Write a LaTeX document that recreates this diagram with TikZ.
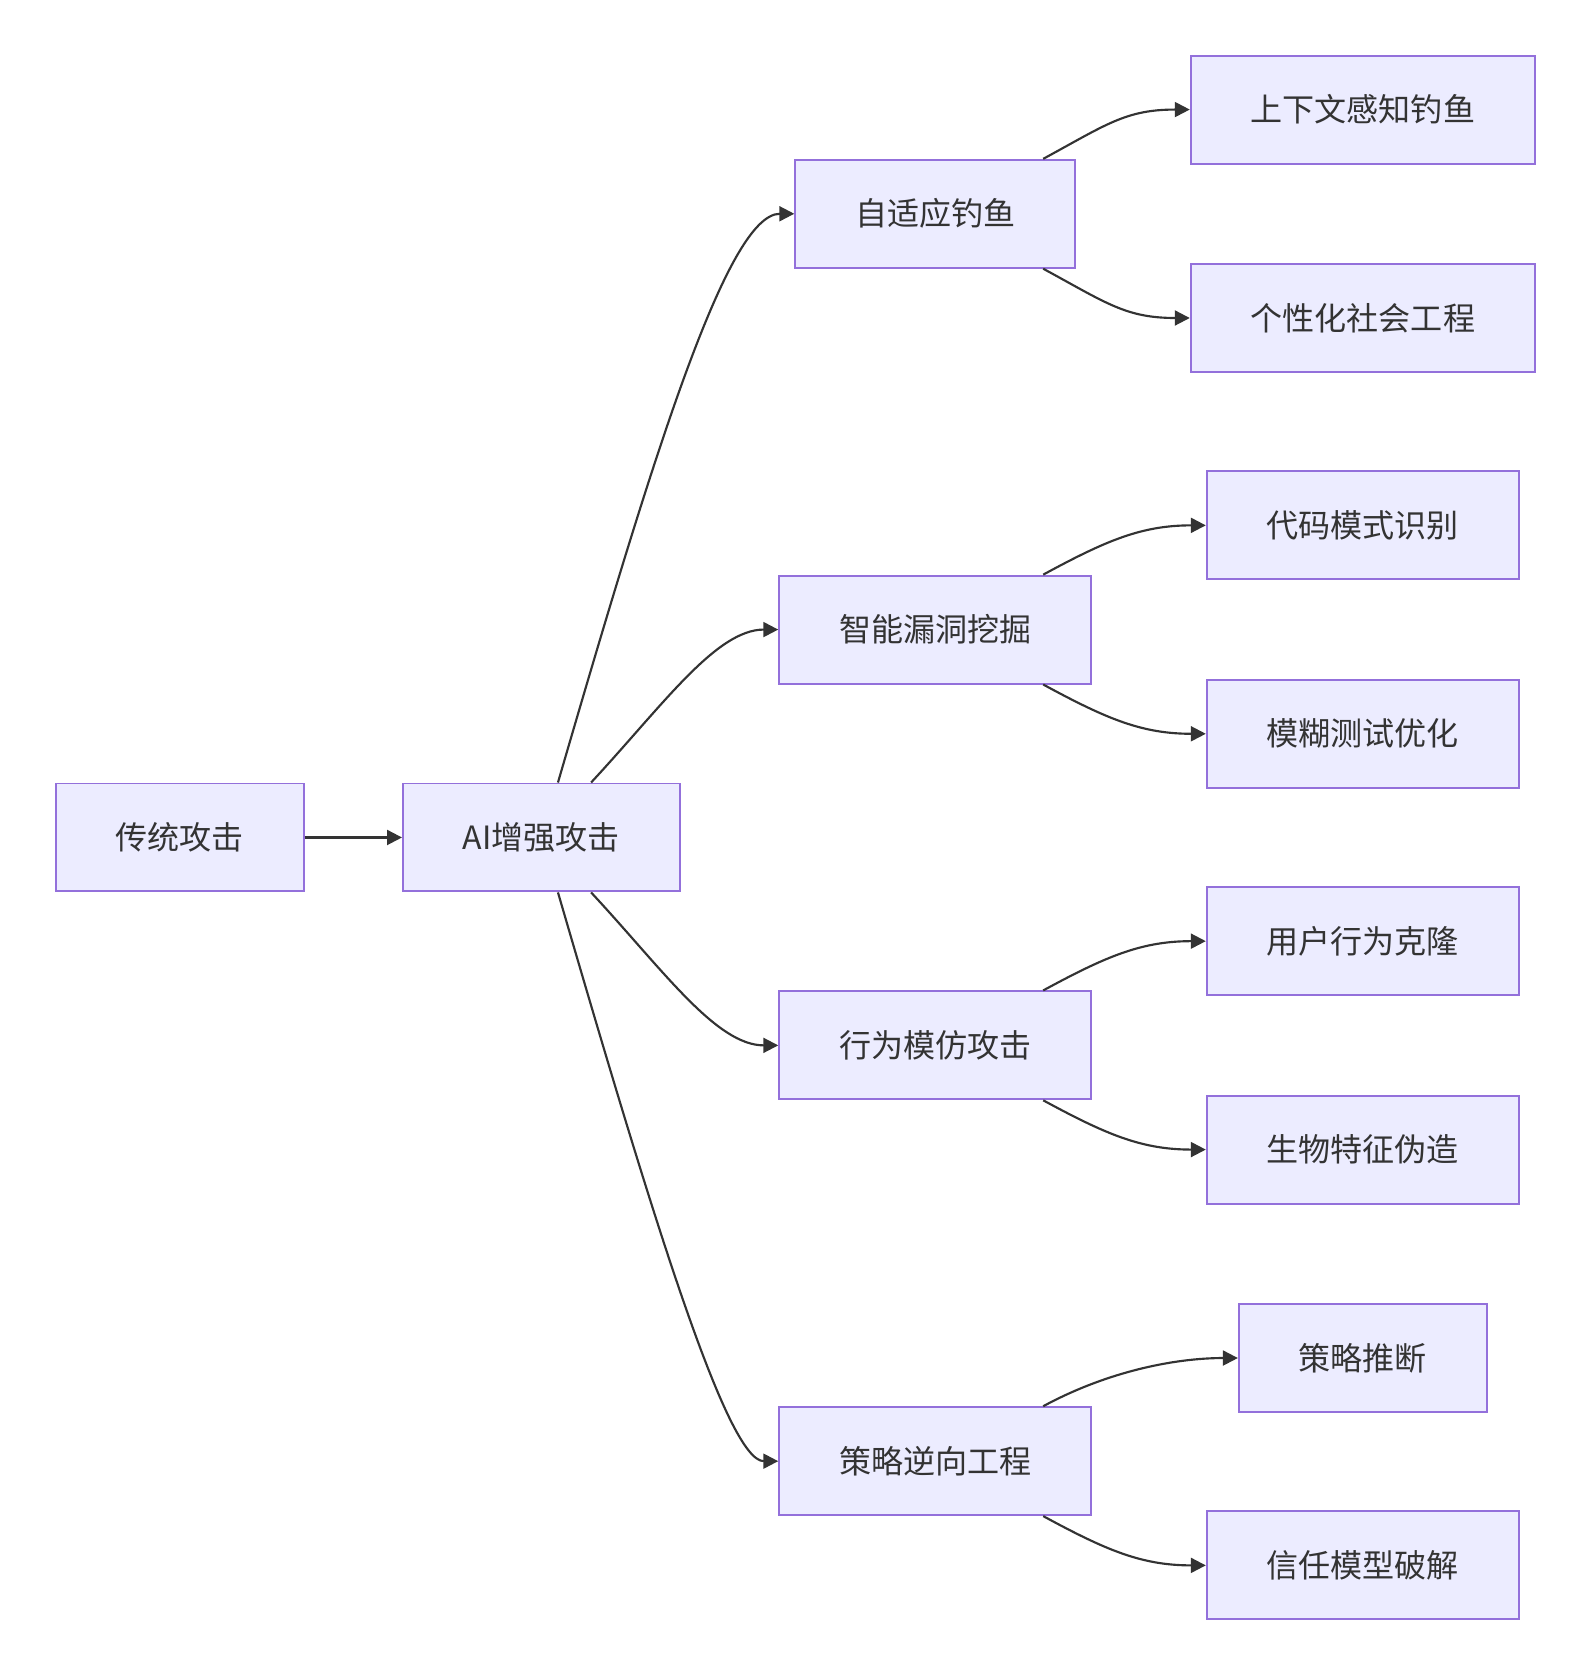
\documentclass[tikz,border=0pt]{standalone}
\usepackage{fontspec}
\newfontfamily\cjk{Noto Sans CJK SC}
\usetikzlibrary{arrows.meta,calc}
\definecolor{boxfill}{HTML}{ECECFF}
\definecolor{boxline}{HTML}{9370DB}
\definecolor{ink}{HTML}{333333}
\tikzset{
  box/.style={draw=boxline, fill=boxfill, line width=0.9pt, inner sep=0pt,
    minimum height=50.5pt, text=ink, font=\cjk\fontsize{15pt}{18pt}\selectfont},
  link/.style={draw=ink, line width=1pt, -{Triangle[length=7pt,width=7pt]}}
}
\begin{document}
\begin{tikzpicture}[x=0.5pt,y=-0.5pt]
\useasboundingbox (0,0) rectangle (1488,1568);
\node[box, minimum width=116pt] (a) at (168,783.5) {传统攻击};
\node[box, minimum width=129.5pt] (b) at (506.5,783.5) {AI增强攻击};
\node[box, minimum width=131pt] (c1) at (875,200) {自适应钓鱼};
\node[box, minimum width=146pt] (c2) at (875,589) {智能漏洞挖掘};
\node[box, minimum width=146pt] (c3) at (875,978) {行为模仿攻击};
\node[box, minimum width=146pt] (c4) at (875,1367) {策略逆向工程};
\node[box, minimum width=161pt] (d1) at (1275,102.5) {上下文感知钓鱼};
\node[box, minimum width=161pt] (d2) at (1275,297.5) {个性化社会工程};
\node[box, minimum width=146pt] (d3) at (1275,491.5) {代码模式识别};
\node[box, minimum width=146pt] (d4) at (1275,686.5) {模糊测试优化};
\node[box, minimum width=146pt] (d5) at (1275,880.5) {用户行为克隆};
\node[box, minimum width=146pt] (d6) at (1275,1075.5) {生物特征伪造};
\node[box, minimum width=116pt] (d7) at (1275,1270.5) {策略推断};
\node[box, minimum width=146pt] (d8) at (1275,1464.5) {信任模型破解};

\draw[link] (a.east) -- (b.west);
\draw[link] ($(b.north)+(15.5,0)$) .. controls (610,430) and (680,200) .. (c1.west);
\draw[link] ($(b.north)+(46.5,0)$) .. controls (620,660) and (670,589) .. (c2.west);
\draw[link] ($(b.south)+(46.5,0)$) .. controls (620,907) and (670,978) .. (c3.west);
\draw[link] ($(b.south)+(15.5,0)$) .. controls (610,1137) and (680,1367) .. (c4.west);

\foreach \p/\u/\l in {c1/d1/d2, c2/d3/d4, c3/d5/d6, c4/d7/d8}{
  \draw[link] ($(\p.north)+(101,0)$) .. controls ($(\p.north)+(160,-32)$) and ($(\u.west)+(-60,0)$) .. (\u.west);
  \draw[link] ($(\p.south)+(101,0)$) .. controls ($(\p.south)+(160,32)$) and ($(\l.west)+(-60,0)$) .. (\l.west);
}
\end{tikzpicture}
\end{document}
